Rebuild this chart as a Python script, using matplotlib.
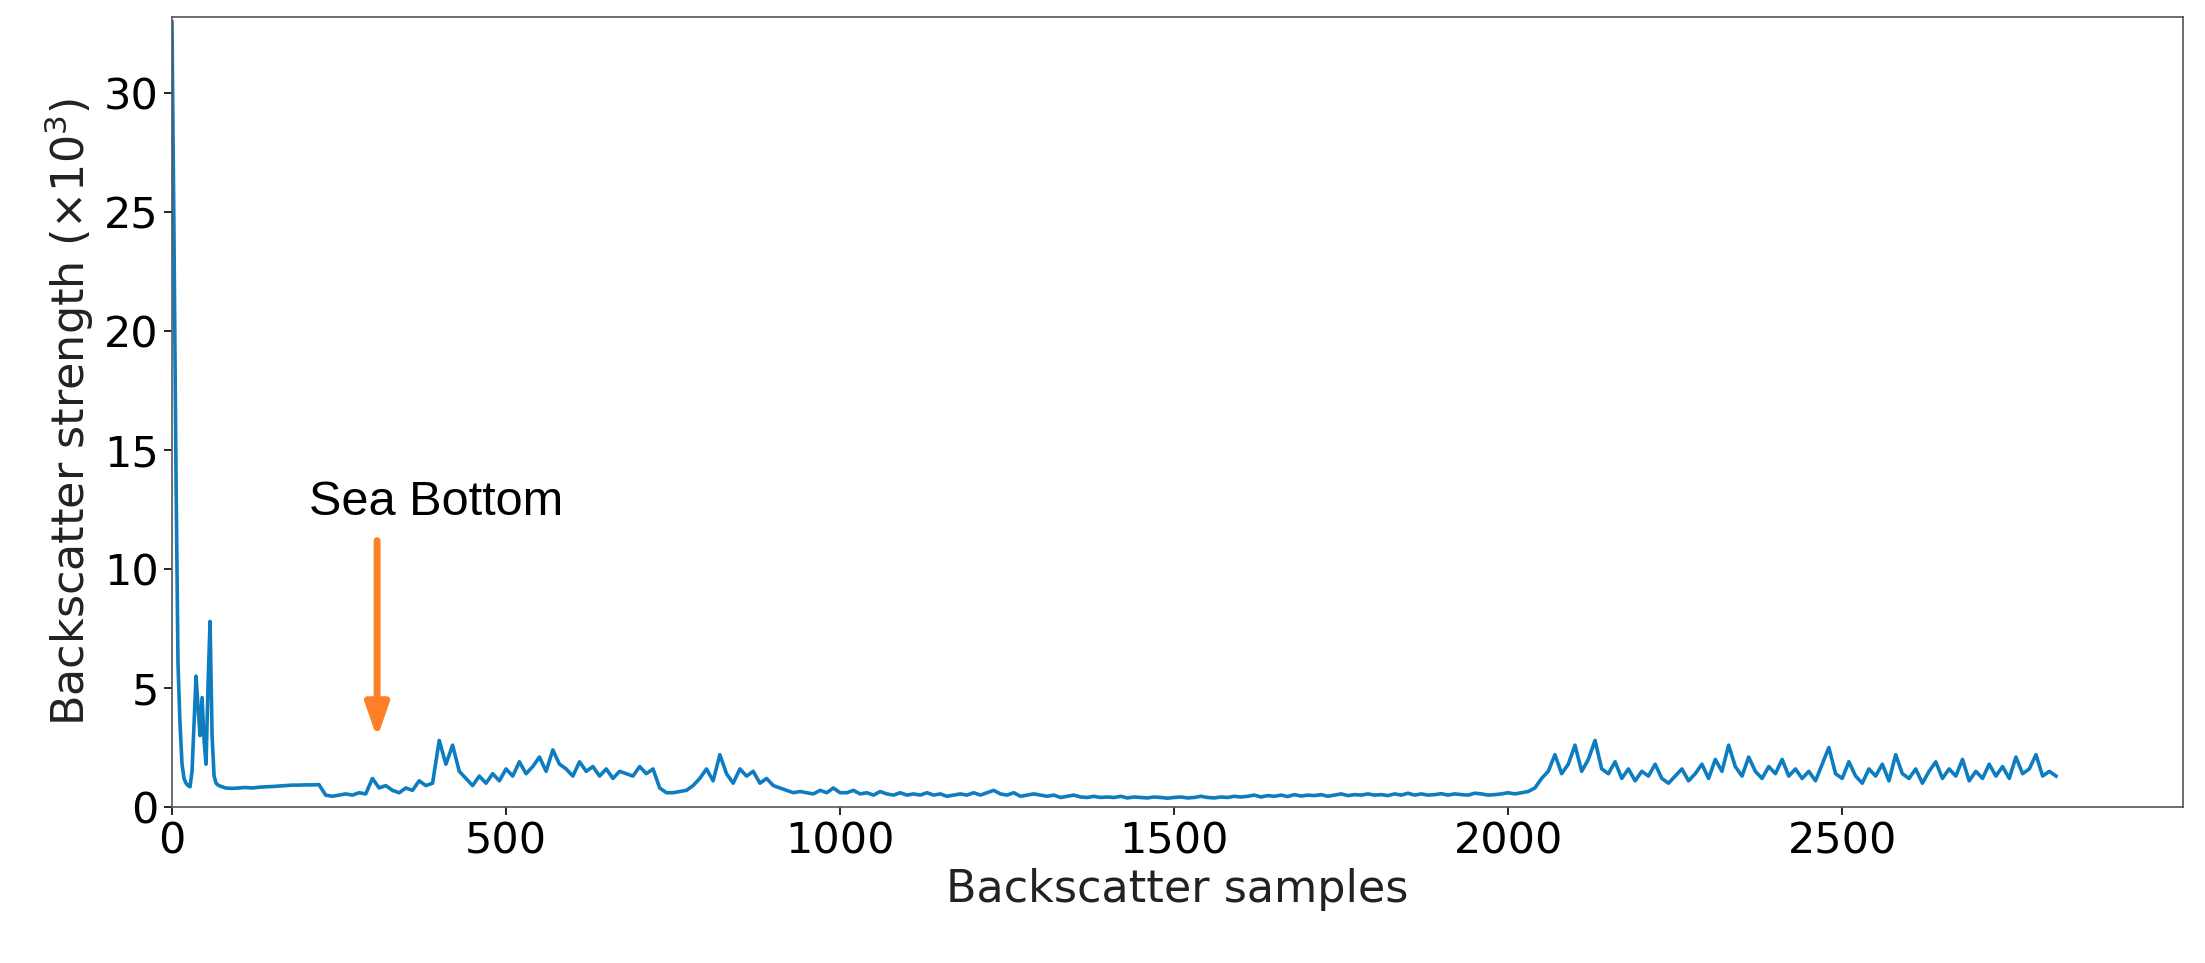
import numpy as np
import matplotlib
matplotlib.use("Agg")
import matplotlib.pyplot as plt

early_x = [0,3,6,9,12,15,18,21,24,27,30,33,36,39,42,45,48,51,54,57,60,63,66,70]
early_y = [33,24,14,6,3.5,1.8,1.2,1.0,0.9,0.85,1.5,3.5,5.5,4.2,3.0,4.6,2.8,1.8,5.2,7.8,3.0,1.3,1.0,0.9]
main_y = [
 0.8,0.78,0.8,0.82,0.8,0.83,0.85,0.86,0.88,0.9,0.92,0.92,0.93,0.93,0.94,
 0.5,0.45,0.5,0.55,0.5,0.6,0.55,
 1.2,0.8,0.9,0.7,0.6,0.8,0.7,1.1,0.9,1.0,
 2.8,1.8,2.6,1.5,1.2,0.9,1.3,1.0,1.4,1.1,
 1.6,1.3,1.9,1.4,1.7,2.1,1.5,2.4,1.8,1.6,1.3,1.9,1.5,1.7,1.3,1.6,1.2,1.5,1.4,1.3,1.7,1.4,1.6,
 0.8,0.6,0.6,0.65,0.7,0.9,1.2,1.6,1.1,2.2,1.4,1.0,1.6,1.3,1.5,1.0,1.2,0.9,
 0.8,0.7,0.6,0.65,0.6,0.55,0.7,0.6,0.8,0.6,
 0.6,0.7,0.55,0.6,0.5,0.65,0.55,0.5,0.6,0.5,
 0.55,0.5,0.6,0.5,0.55,0.45,0.5,0.55,0.5,0.6,
 0.5,0.6,0.7,0.55,0.5,0.6,0.45,0.5,0.55,0.5,
 0.45,0.5,0.4,0.45,0.5,0.42,0.4,0.45,0.4,0.42,
 0.4,0.45,0.38,0.42,0.4,0.38,0.42,0.4,0.37,0.4,
 0.42,0.38,0.4,0.45,0.4,0.38,0.42,0.4,0.45,0.42,
 0.45,0.5,0.42,0.48,0.45,0.5,0.44,0.52,0.46,0.5,
 0.48,0.52,0.45,0.5,0.55,0.48,0.52,0.5,0.55,0.5,
 0.52,0.48,0.55,0.5,0.58,0.5,0.55,0.5,0.52,0.56,
 0.5,0.55,0.52,0.5,0.58,0.55,0.5,0.52,0.55,0.6,
 0.55,0.6,0.65,0.8,
 1.2,1.5,2.2,1.4,1.8,2.6,1.5,2.0,2.8,1.6,
 1.4,1.9,1.2,1.6,1.1,1.5,1.3,1.8,1.2,1.0,
 1.3,1.6,1.1,1.4,1.8,1.2,2.0,1.5,2.6,1.7,
 1.3,2.1,1.5,1.2,1.7,1.4,2.0,1.3,1.6,1.2,
 1.5,1.1,1.8,2.5,1.4,1.2,1.9,1.3,1.0,1.6,
 1.3,1.8,1.1,2.2,1.4,1.2,1.6,1.0,1.5,1.9,
 1.2,1.6,1.3,2.0,1.1,1.5,1.2,1.8,1.3,1.7,
 1.2,2.1,1.4,1.6,2.2,1.3,1.5,1.3]
main_x = list(80 + 10*np.arange(len(main_y)))

x = np.array(early_x + main_x)
y = np.array(early_y + main_y)

fig = plt.figure(figsize=(22.05, 9.63), dpi=100)
ax = fig.add_axes([0.078, 0.162, 0.912, 0.82])
ax.plot(x, y, color='#0e7cc0', lw=2.6)
ax.set_xlim(0, 3010)
ax.set_ylim(0, 33.2)
ax.set_xticks([0,500,1000,1500,2000,2500])
ax.set_yticks([0,5,10,15,20,25,30])
ax.tick_params(labelsize=31, length=6, width=1.2)
for s in ax.spines.values():
    s.set_color('#555555'); s.set_linewidth(1.2)
ax.set_xlabel('Backscatter samples', fontsize=32, color='#222222', labelpad=4)
ax.set_ylabel(r'Backscatter strength ($\times10^3$)', fontsize=32, color='#222222', labelpad=6)
ax.annotate('', xy=(307, 2.9), xytext=(307, 11.2),
            arrowprops=dict(arrowstyle='-|>,head_length=2.0,head_width=0.7', color='#fd7f28', lw=5, shrinkA=0, shrinkB=0))
ax.text(396, 12.8, 'Sea Bottom', fontsize=35, family='Liberation Sans', ha='center', va='center')
fig.savefig('out.png', dpi=100)
